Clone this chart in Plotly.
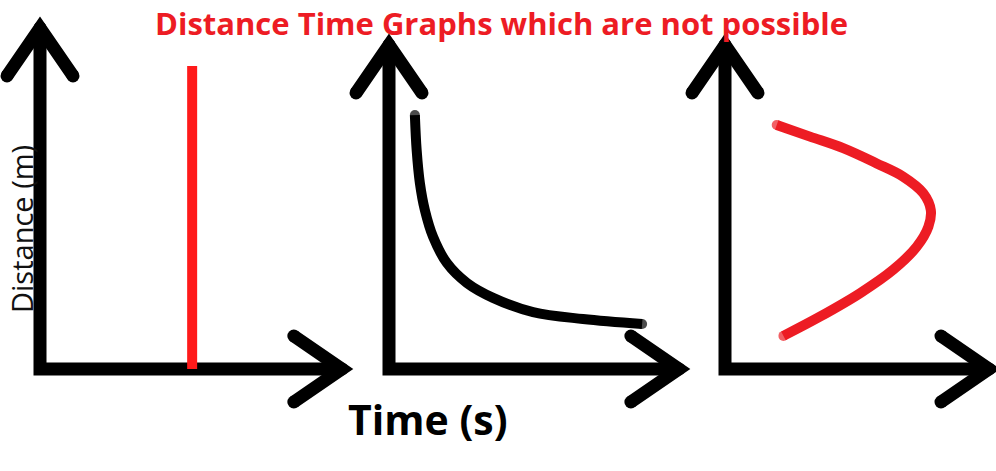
import plotly.graph_objects as go

W, H = 996, 471

# panel 1 - straight up line: distance changes with no time passing
p1_time = [4.94, 4.94]
p1_distance = [0.0, 8.73]

# panel 2 - curve dropping towards the time axis
p2_time = [0.88, 0.94, 1.05, 1.22, 1.50, 1.97, 2.65, 3.54, 4.90, 6.60, 8.61]
p2_distance = [7.67, 6.62, 5.62, 4.80, 3.99, 3.20, 2.60, 2.15, 1.72, 1.51, 1.36]

# panel 3 - curve that bends back (time going backwards)
p3_time = [1.93, 3.17, 4.41, 5.66, 6.65, 7.40, 7.68, 7.59, 7.16, 6.28, 5.04, 3.54, 2.18]
p3_distance = [7.37, 7.02, 6.67, 6.21, 5.81, 5.31, 4.80, 4.30, 3.70, 3.00, 2.29, 1.58, 1.00]

# where each sketch sits: origin in px, px per unit,
# box in px (x0, x1, top, bottom), arrow tips in units
panels = [
    dict(ox=40, oy=369, sx=30.8, sy=34.7, box=(0, 356, 8, 420), tip=(9.8, 9.83)),
    dict(ox=389, oy=369, sx=29.4, sy=33.1, box=(340, 696, 25, 420), tip=(9.86, 9.79)),
    dict(ox=725, oy=369, sx=26.8, sy=33.1, box=(680, 996, 25, 420), tip=(9.85, 9.79)),
]

AXIS_W = 13
WING_BACK = 48
WING_SIDE = 33


def px(x):
    return x / W


def py(y):
    return 1 - y / H


fig = go.Figure()
layout = {}

for i, p in enumerate(panels):
    sfx = '' if i == 0 else str(i + 1)
    x0, x1, top, bottom = p['box']
    layout['xaxis' + sfx] = dict(
        domain=[px(x0), px(x1)],
        range=[(x0 - p['ox']) / p['sx'], (x1 - p['ox']) / p['sx']],
        visible=False, fixedrange=True, anchor='y' + sfx,
    )
    layout['yaxis' + sfx] = dict(
        domain=[py(bottom), py(top)],
        range=[(p['oy'] - bottom) / p['sy'], (p['oy'] - top) / p['sy']],
        visible=False, fixedrange=True, anchor='x' + sfx,
    )
    tx, ty = p['tip']
    bx, by = WING_BACK / p['sx'], WING_BACK / p['sy']
    wx, wy = WING_SIDE / p['sx'], WING_SIDE / p['sy']
    axis_style = dict(color='black', width=AXIS_W)
    head_marker = dict(color='black', size=AXIS_W, line=dict(width=0))
    # the two axes as one L
    fig.add_trace(go.Scatter(x=[0, 0, tx], y=[ty, 0, 0], mode='lines', line=axis_style,
                             xaxis='x' + sfx, yaxis='y' + sfx, hoverinfo='skip'))
    # arrow heads
    fig.add_trace(go.Scatter(x=[-wx, 0, wx], y=[ty - by, ty, ty - by], mode='lines+markers',
                             line=axis_style, marker=head_marker,
                             xaxis='x' + sfx, yaxis='y' + sfx, hoverinfo='skip'))
    fig.add_trace(go.Scatter(x=[tx - bx, tx, tx - bx], y=[wy, 0, -wy], mode='lines+markers',
                             line=axis_style, marker=head_marker,
                             xaxis='x' + sfx, yaxis='y' + sfx, hoverinfo='skip'))

fig.add_trace(go.Scatter(x=p1_time, y=p1_distance, mode='lines',
                         line=dict(color='#ff1a1a', width=10), xaxis='x', yaxis='y'))


def caps(n, size):
    return [size] + [0] * (n - 2) + [size]


fig.add_trace(go.Scatter(x=p2_time, y=p2_distance, mode='lines+markers',
                         line=dict(color='black', width=10, shape='spline', smoothing=1),
                         marker=dict(color='black', size=caps(len(p2_time), 10), line=dict(width=0)),
                         xaxis='x2', yaxis='y2'))
fig.add_trace(go.Scatter(x=p3_time, y=p3_distance, mode='lines+markers',
                         line=dict(color='#ed1c24', width=10, shape='spline', smoothing=1),
                         marker=dict(color='#ed1c24', size=caps(len(p3_time), 10), line=dict(width=0)),
                         xaxis='x3', yaxis='y3'))

fig.update_layout(
    **layout,
    width=W, height=H,
    margin=dict(l=0, r=0, t=0, b=0),
    paper_bgcolor='white',
    plot_bgcolor='rgba(0,0,0,0)',
    showlegend=False,
    annotations=[
        dict(text='<b>Distance Time Graphs which are not possible</b>', xref='paper', yref='paper',
             x=px(501), y=py(23), xanchor='center', yanchor='middle', showarrow=False,
             borderpad=0, font=dict(family='Open Sans', size=31, color='#ed1c24')),
        dict(text='Distance (m)', xref='paper', yref='paper', textangle=-90,
             x=px(21), y=py(229), xanchor='center', yanchor='middle', showarrow=False,
             borderpad=0, font=dict(family='Open Sans', size=29, color='#111111')),
        dict(text='<b>Time (s)</b>', xref='paper', yref='paper',
             x=px(428), y=py(419), xanchor='center', yanchor='middle', showarrow=False,
             font=dict(family='Open Sans', size=41, color='black')),
    ],
)

# drop the default 8px page margin so the figure fills the window
fig.write_html('out.html', config={'displayModeBar': False},
               post_script="document.body.style.margin = '0';")
